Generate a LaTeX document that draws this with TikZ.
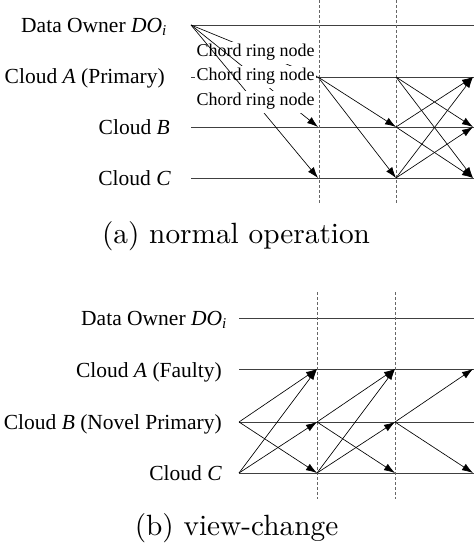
\documentclass[tikz,border=0pt]{standalone}
\usepackage{fontspec}
\newfontfamily\tnr{Liberation Serif}
\newfontfamily\cmten{lmroman10-regular}[Extension=.otf]
\usetikzlibrary{arrows.meta}
\begin{document}
\begin{tikzpicture}[x=1pt,y=-1pt,
  lane/.style={line width=0.8pt, black!75},
  guide/.style={line width=0.6pt, black!60, dash pattern=on 3pt off 2pt},
  msg/.style={line width=0.65pt, black, -{Latex[length=11pt,width=7.5pt]}},
  lbl/.style={font=\tnr\fontsize{21.5}{24}\selectfont, anchor=base east, inner sep=0pt},
  chord/.style={font=\tnr\fontsize{18}{20}\selectfont, anchor=base west, fill=white, inner xsep=1.5pt, inner ysep=3pt},
  captext/.style={font=\cmten\fontsize{29.3}{34}\selectfont, anchor=base, inner sep=0pt}]
\useasboundingbox (0,0) rectangle (474,545);

% ---------- (a) normal operation ----------
\coordinate (aDO) at (191,25);  \coordinate (aDOe) at (474,25);
\coordinate (aA0) at (191,77);  \coordinate (aAe) at (474,77);
\coordinate (aB0) at (191,127); \coordinate (aBe) at (474,127);
\coordinate (aC0) at (191,178); \coordinate (aCe) at (474,178);
\coordinate (aA1) at (318,77);  \coordinate (aB1) at (318,127); \coordinate (aC1) at (318,178);
\coordinate (aA2) at (396,77);  \coordinate (aB2) at (396,127); \coordinate (aC2) at (396,178);
\coordinate (aA3) at (473,77);  \coordinate (aB3) at (473,127); \coordinate (aC3) at (473,178);
\coordinate (ag1t) at (319,0);  \coordinate (ag1b) at (319,203);
\coordinate (ag2t) at (396,0);  \coordinate (ag2b) at (396,203);

\draw[lane] (aDO) -- (aDOe);
\draw[lane] (aA0) -- (aAe);
\draw[lane] (aB0) -- (aBe);
\draw[lane] (aC0) -- (aCe);
\draw[guide] (ag1t) -- (ag1b);
\draw[guide] (ag2t) -- (ag2b);

\node[lbl] (laDO) at (167,32.5) {Data Owner \textit{DO}\textsubscript{\textit{i}}};
\node[lbl] (laA) at (165,84) {Cloud \textit{A} (Primary)};
\node[lbl] (laB) at (170,134.5) {Cloud \textit{B}};
\node[lbl] (laC) at (171,185.5) {Cloud \textit{C}};

\draw[msg] (aDO) -- (aA1);
\node[chord] (ch1) at (195,57) {Chord ring node};
\draw[msg] (aDO) -- (aB1);
\node[chord] (ch2) at (195,81) {Chord ring node};
\draw[msg] (aDO) -- (aC1);
\node[chord] (ch3) at (195,106) {Chord ring node};

\draw[msg] (aA1) -- (aB2);
\draw[msg] (aA1) -- (aC2);
\draw[msg] (aA2) -- (aB3);
\draw[msg] (aA2) -- (aC3);
\draw[msg] (aB2) -- (aA3);
\draw[msg] (aB2) -- (aC3);
\draw[msg] (aC2) -- (aA3);
\draw[msg] (aC2) -- (aB3);

\node[captext] (capa) at (236,243) {(a) normal operation};

% ---------- (b) view-change ----------
\coordinate (bDO) at (239,318); \coordinate (bDOe) at (474,318);
\coordinate (bA0) at (239,369); \coordinate (bAe) at (474,369);
\coordinate (bB0) at (239,422); \coordinate (bBe) at (474,422);
\coordinate (bC0) at (239,473); \coordinate (bCe) at (474,473);
\coordinate (bA1) at (317,369); \coordinate (bB1) at (317,422); \coordinate (bC1) at (317,473);
\coordinate (bA2) at (395,369); \coordinate (bB2) at (395,422); \coordinate (bC2) at (395,473);
\coordinate (bA3) at (473,369); \coordinate (bC3) at (473,473);
\coordinate (bg1t) at (317,292); \coordinate (bg1b) at (317,499);
\coordinate (bg2t) at (395,292); \coordinate (bg2b) at (395,499);

\draw[lane] (bDO) -- (bDOe);
\draw[lane] (bA0) -- (bAe);
\draw[lane] (bB0) -- (bBe);
\draw[lane] (bC0) -- (bCe);
\draw[guide] (bg1t) -- (bg1b);
\draw[guide] (bg2t) -- (bg2b);

\node[lbl] (lbDO) at (227,325) {Data Owner \textit{DO}\textsubscript{\textit{i}}};
\node[lbl] (lbA) at (222,377) {Cloud \textit{A} (Faulty)};
\node[lbl] (lbB) at (222,429.5) {Cloud \textit{B} (Novel Primary)};
\node[lbl] (lbC) at (222,480.5) {Cloud \textit{C}};

\draw[msg] (bB0) -- (bA1);
\draw[msg] (bB0) -- (bC1);
\draw[msg] (bC0) -- (bA1);
\draw[msg] (bC0) -- (bB1);
\draw[msg] (bB1) -- (bA2);
\draw[msg] (bB1) -- (bC2);
\draw[msg] (bC1) -- (bA2);
\draw[msg] (bC1) -- (bB2);
\draw[msg] (bB2) -- (bA3);
\draw[msg] (bB2) -- (bC3);

\node[captext] (capb) at (236.5,535) {(b) view-change};
\end{tikzpicture}
\end{document}
